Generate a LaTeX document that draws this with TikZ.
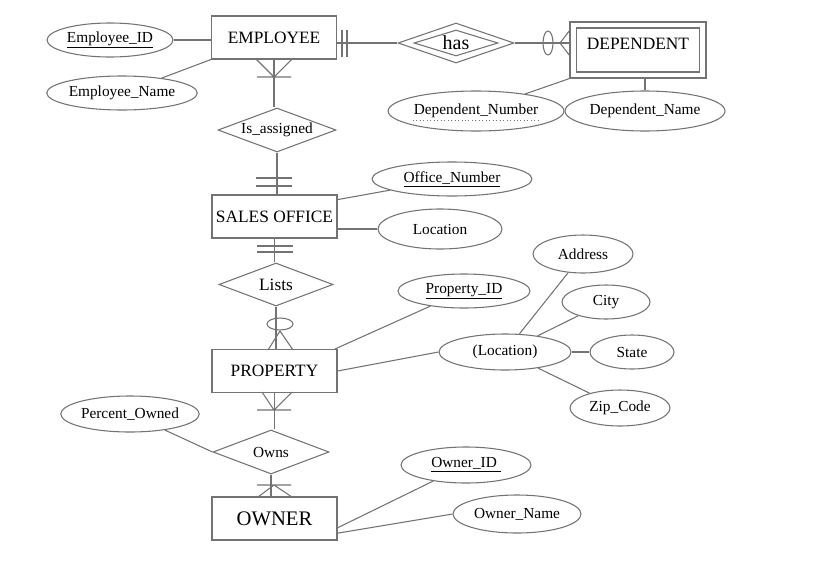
\documentclass[tikz,border=0pt]{standalone}
\usepackage{fontspec}
\setmainfont{Liberation Serif}
\usetikzlibrary{shapes.geometric}
\def\u{0.75pt}
\begin{document}
\begin{tikzpicture}[x=0.75pt,y=-0.75pt,line width=0.8pt,draw=black!55,
  every node/.style={text=black},
  ent/.style={draw=black!55,rectangle,inner sep=0,minimum width=125*\u,minimum height=43*\u,font=\fontsize{13pt}{15pt}\selectfont},
  att/.style={draw=black!55,ellipse,inner sep=0,font=\fontsize{11.5pt}{13pt}\selectfont},
  rel/.style={draw=black!55,diamond,inner sep=0,aspect=2.7,font=\fontsize{11.5pt}{13pt}\selectfont}]
\useasboundingbox (0,0) rectangle (830,582);
% entities
\node[ent] (emp) at (274,37.5) {EMPLOYEE};
\node[ent] (so) at (274.5,216.5) {SALES OFFICE};
\node[ent] (prop) at (274.5,371) {PROPERTY};
\node[ent,font=\fontsize{15.5pt}{17pt}\selectfont] (own) at (274.5,518.5) {OWNER};
\node[draw=black!55,minimum width=136*\u,minimum height=56*\u,inner sep=0] (dep) at (638,50) {};
\node[draw=black!55,minimum width=123*\u,minimum height=44*\u,inner sep=0] (depi) at (638,50) {};
\node[font=\fontsize{13pt}{15pt}\selectfont] (dept) at (638,44) {DEPENDENT};
% relationships
\node[rel,minimum width=116*\u,minimum height=40*\u] (has) at (456,43) {};
\node[rel,minimum width=84*\u,minimum height=26*\u,font=\fontsize{15pt}{17pt}\selectfont] (hasi) at (456,43) {has};
\node[rel,minimum width=118*\u,minimum height=44*\u] (isa) at (277,130) {Is\_assigned};
\node[rel,minimum width=114*\u,minimum height=43*\u,font=\fontsize{13pt}{15pt}\selectfont] (lists) at (276,284.5) {Lists};
\node[rel,minimum width=116*\u,minimum height=44*\u] (owns) at (271,452) {Owns};
% attributes
\node[att,minimum width=126*\u,minimum height=34*\u] (eid) at (110,40) {\underline{Employee\_ID}};
\node[att,minimum width=140*\u,minimum height=34*\u] (ename) at (122,93) {Employee\_Name};
\node[att,minimum width=170*\u,minimum height=40*\u] (dnum) at (476,111) {Dependent\_Number};
\draw[dotted,line width=0.6pt] (413,120) -- (539,120);
\node[att,minimum width=160*\u,minimum height=40*\u] (dname) at (645,111) {Dependent\_Name};
\node[att,minimum width=160*\u,minimum height=34*\u] (onum) at (452,179) {\underline{Office\_Number}};
\node[att,minimum width=124*\u,minimum height=40*\u] (loc) at (440,229) {Location};
\node[att,minimum width=132*\u,minimum height=34*\u] (pid) at (464,291) {\underline{Property\_ID}};
\node[att,minimum width=132*\u,minimum height=36*\u] (ploc) at (505,352) {(Location)};
\node[att,minimum width=100*\u,minimum height=38*\u] (addr) at (583,254) {Address};
\node[att,minimum width=88*\u,minimum height=34*\u] (city) at (606,302) {City};
\node[att,minimum width=84*\u,minimum height=34*\u] (state) at (632,352) {State};
\node[att,minimum width=100*\u,minimum height=36*\u] (zip) at (620,408) {Zip\_Code};
\node[att,minimum width=136*\u,minimum height=36*\u] (pct) at (130,414) {Percent\_Owned};
\node[att,minimum width=130*\u,minimum height=36*\u] (oid) at (466,465) {\underline{Owner\_ID\ }};
\node[att,minimum width=128*\u,minimum height=38*\u] (oname) at (517,514) {Owner\_Name};
% attribute links
\draw (eid.east) -- (emp.west |- eid.east);
\draw (ename) -- (emp.south west);
\draw (dnum) -- (dep.south west);
\draw (dname) -- (dep.south -| dname);
\draw (onum) -- (so.15);
\draw (loc.west) -- (so.east |- loc.west);
\draw (pid) -- (prop.20);
\draw (ploc.west) -- (prop.east);
\draw (ploc) -- (addr);
\draw (ploc) -- (city);
\draw (ploc.east) -- (state);
\draw (ploc) -- (zip);
\draw (pct) -- (owns.west);
\draw (oid) -- ([yshift=-7pt]own.east);
\draw (oname.west) -- ([yshift=-11pt]own.east);
% relationship links
\draw (emp.east |- has.west) -- (has.west);
\draw (has.east) -- (dep.west |- has.east);
\draw (emp.south) -- (isa.north -| emp.south);
\draw (isa.south) -- (isa.south |- so.north);
\draw (so.south) -- (so.south |- lists.north);
\draw (lists.south) -- (lists.south |- prop.north);
\draw (prop.south) -- (prop.south |- owns.north);
\draw (owns.south) -- (owns.south |- own.north);
% cardinality marks
\draw (342,30) -- (342,57) (347,30) -- (347,57);
\draw (548,43) ellipse (5 and 12);
\draw (560,43) -- (570,30) (560,43) -- (570,56);
\draw (256,59) -- (274,77) -- (292,59) (257,77) -- (291,77);
\draw (256,178) -- (292,178) (256,186) -- (292,186);
\draw (257,246) -- (293,246) (257,252) -- (293,252);
\draw (280,324) ellipse (13 and 6);
\draw (268,350) -- (280,331) -- (293,350);
\draw (262,392) -- (274,410) -- (292,392) (257,410) -- (291,410);
\draw (257,485) -- (291,485) (258,497) -- (274,485) -- (292,497);
\end{tikzpicture}
\end{document}
